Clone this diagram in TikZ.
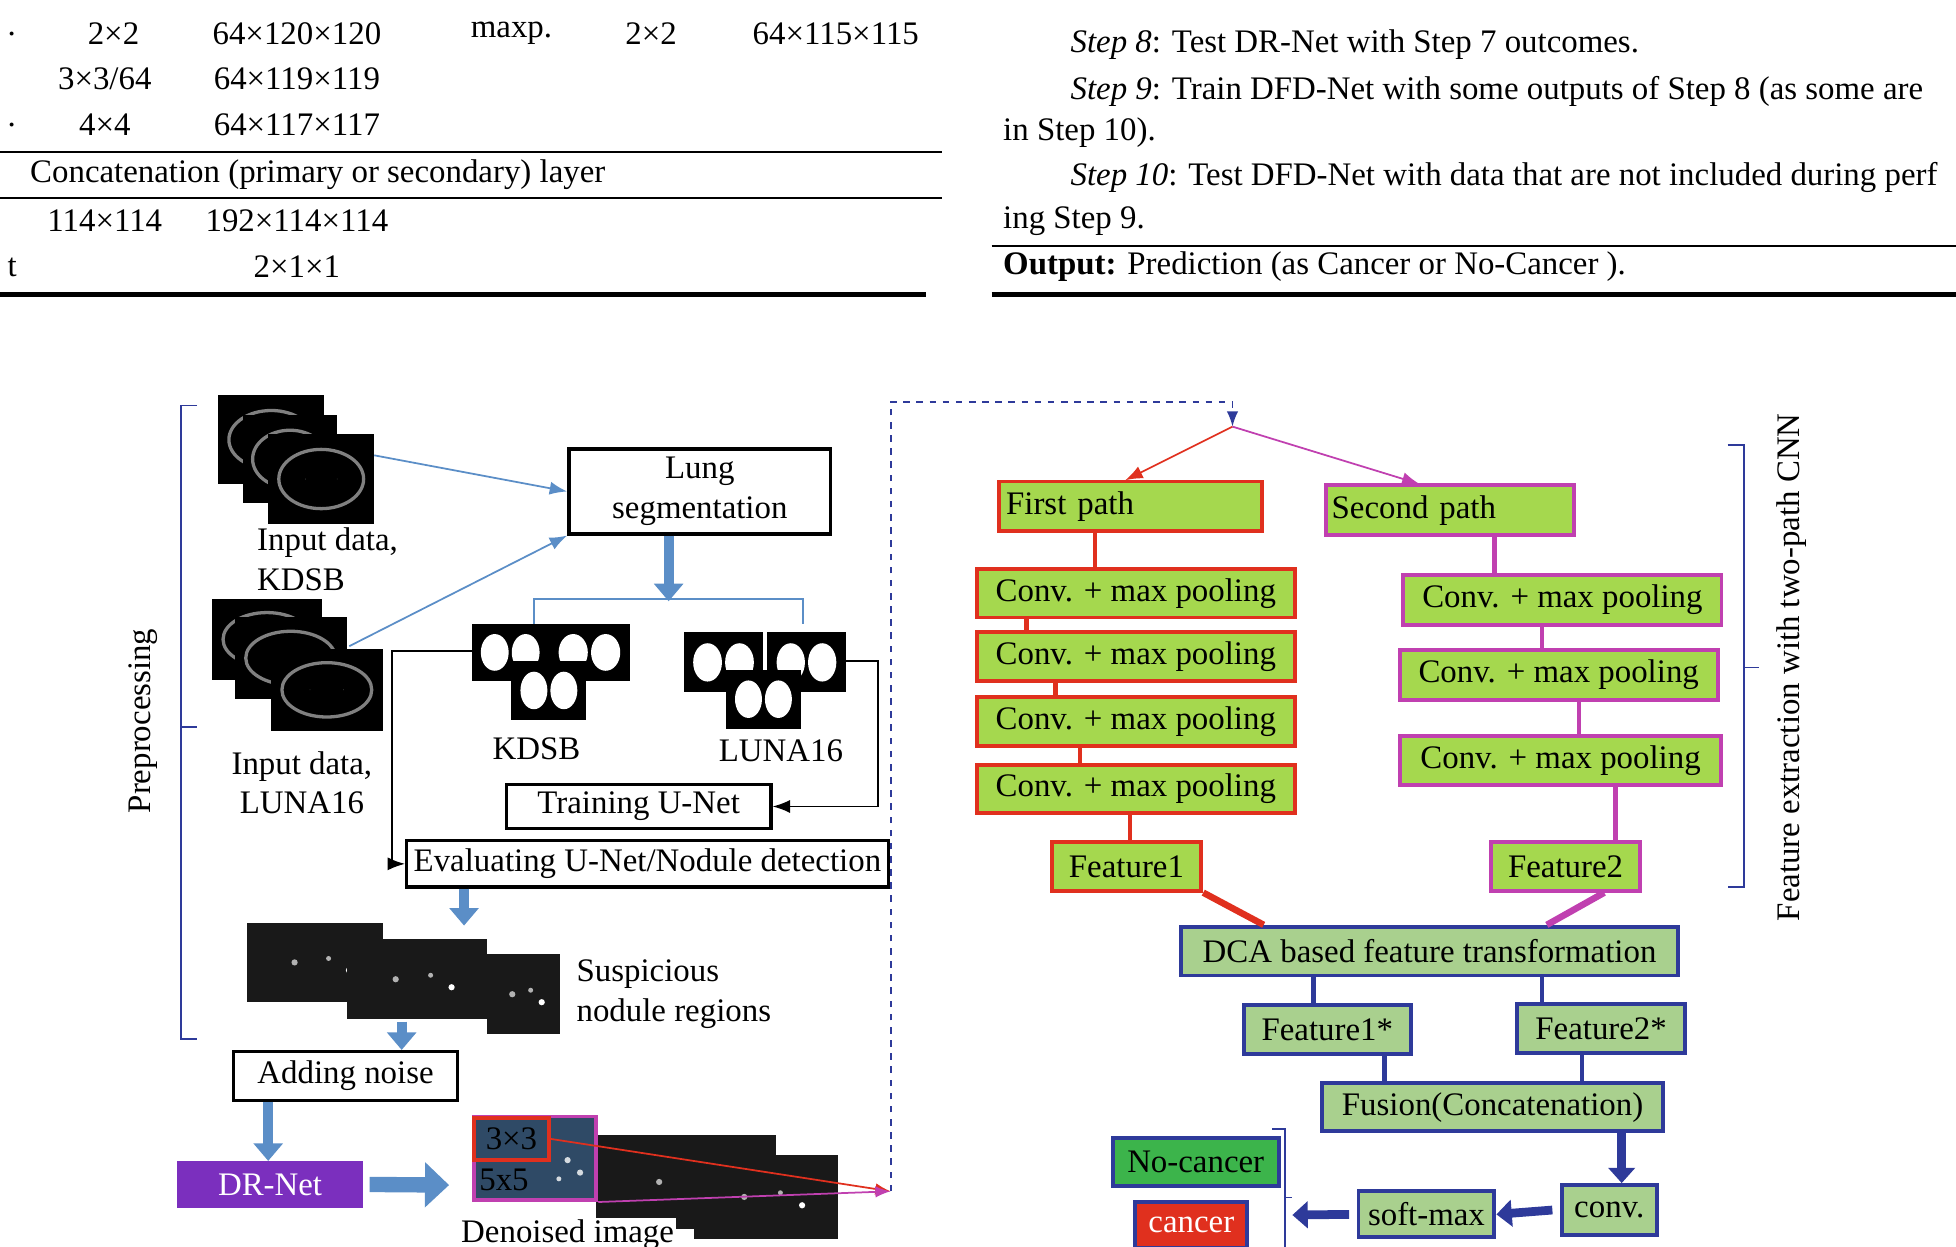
\documentclass[tikz,border=0pt]{standalone}
\usepackage{fontspec}
\setmainfont{Liberation Serif}
\usetikzlibrary{arrows.meta}
\definecolor{pgreen}{HTML}{A5D84E}
\definecolor{lgreen}{HTML}{A9D08E}
\definecolor{dgreen}{HTML}{3CB44B}
\definecolor{pred}{HTML}{E0301E}
\definecolor{pmag}{HTML}{C040B0}
\definecolor{pnavy}{HTML}{2E3A9A}
\definecolor{pblue}{HTML}{5B8EC7}
\definecolor{ppurple}{HTML}{7B2FBE}
\definecolor{dimg}{HTML}{2F4A66}
\newcommand{\ctimg}[4]{\fill[black] (#1,#2) rectangle (#3,#4);
  \draw[gray,line width=1.5pt] ({(#1+#3)/2},{(#2+#4)/2}) ellipse ({(#3-#1)*0.4*0.02cm} and {(#4-#2)*0.33*0.02cm});
  \fill[gray!60] ({(#1+#3)/2-(#3-#1)*0.15},{(#2+#4)/2}) circle (0.25) ({(#1+#3)/2+(#3-#1)*0.15},{(#2+#4)/2}) circle (0.25);}
\newcommand{\maskimg}[4]{\fill[black] (#1,#2) rectangle (#3,#4);
  \fill[white] ({#1+(#3-#1)*0.3},{(#2+#4)/2}) ellipse ({(#3-#1)*0.18*0.02cm} and {(#4-#2)*0.32*0.02cm});
  \fill[white] ({#1+(#3-#1)*0.7},{(#2+#4)/2}) ellipse ({(#3-#1)*0.18*0.02cm} and {(#4-#2)*0.32*0.02cm});}
\newcommand{\darkimg}[4]{\fill[black!90] (#1,#2) rectangle (#3,#4);
  \fill[gray!60] ({#1+(#3-#1)*0.35},{(#2+#4)/2}) circle (2.5) ({#1+(#3-#1)*0.6},{#2+(#4-#2)*0.45}) circle (2);
  \fill[white] ({#1+(#3-#1)*0.75},{#2+(#4-#2)*0.6}) circle (2.5);}
\tikzset{
  every node/.style={font=\fontsize{15}{18}\selectfont},
  box/.style={draw,line width=1.5pt,inner sep=0pt,align=center},
  rbox/.style={draw=pred,fill=pgreen,line width=1.8pt,inner sep=0pt},
  mbox/.style={draw=pmag,fill=pgreen,line width=1.8pt,inner sep=0pt},
  bbox/.style={draw=pnavy,fill=lgreen,line width=1.8pt,inner sep=0pt},
  barrow/.style={pblue,line width=4.5pt,-{Triangle[width=13pt,length=8pt]}},
  narrow/.style={pnavy,line width=4pt,-{Triangle[width=12pt,length=7pt]}},
  thin/.style={line width=0.8pt},
}
\begin{document}
\begin{tikzpicture}[x=0.02cm,y=-0.02cm]
\useasboundingbox (0,0) rectangle (1568,999);
% top left table
\node[anchor=west] (t1) at (0,27) {.};
\node (t2) at (91,27) {2×2};
\node (t3) at (238,27) {64×120×120};
\node (t4) at (410,27) {maxp.};
\node (t5) at (522,27) {2×2};
\node (t6) at (670,27) {64×115×115};
\node (t7) at (84,63) {3×3/64};
\node (t8) at (238,63) {64×119×119};
\node[anchor=west] (t9) at (0,100) {.};
\node (t10) at (84,100) {4×4};
\node (t11) at (238,100) {64×117×117};
\draw[line width=1pt] (0,122) -- (755,122);
\node[anchor=west] (t12) at (18,140) {Concatenation (primary or secondary) layer};
\draw[line width=1pt] (0,159) -- (755,159);
\node (t13) at (84,177) {114×114};
\node (t14) at (238,177) {192×114×114};
\node[anchor=west] (t15) at (0,214) {t};
\node (t16) at (238,214) {2×1×1};
\draw[line width=2pt] (0,236) -- (742,236);
% top right algorithm
\node[anchor=west] (s8) at (852,36) {\textit{Step 8}: Test DR-Net with Step 7 outcomes.};
\node[anchor=west] (s9) at (852,73) {\textit{Step 9}: Train DFD-Net with some outputs of Step 8 (as some are};
\node[anchor=west] (s9b) at (798,106) {in Step 10).};
\node[anchor=west] (s10) at (852,142) {\textit{Step 10}: Test DFD-Net with data that are not included during perf};
\node[anchor=west] (s10b) at (798,177) {ing Step 9.};
\draw[line width=1pt] (795,197) -- (1568,197);
\node[anchor=west] (out) at (798,214) {\textbf{Output:} Prediction (as Cancer or No-Cancer ).};
\draw[line width=2pt] (795,236) -- (1568,236);
% preprocessing bracket
\draw[pnavy,thin] (158,325) -- (145,325) -- (145,833) -- (158,833) (145,583) -- (158,583);
\node[rotate=90] (pre) at (115,578) {Preprocessing};
% input images
\ctimg{175}{317}{260}{388}\ctimg{195}{333}{270}{403}\ctimg{215}{348}{300}{420}
\ctimg{170}{480}{258}{545}\ctimg{188}{495}{278}{560}\ctimg{217}{520}{307}{586}
\node[align=left,anchor=north west] (in1) at (200,417) {Input data,\\KDSB};
\node[align=center,anchor=north] (in2) at (242,596) {Input data,\\LUNA16};
\coordinate (i1) at (300,365);
\coordinate (i2) at (280,518);
\node[box,minimum width=4.2cm,minimum height=1.36cm,text width=4cm] (lung) at (561,394) {Lung\\segmentation};
\draw[pblue,thin,-{Latex[length=8pt]}] (i1) -- (lung.west);
\draw[pblue,thin,-{Latex[length=8pt]}] (i2) -- (lung.south west);
\draw[barrow] (lung.south -| 536,0) -- (536,482);
\draw[pblue,thin] (428,500) -- (428,480) -- (644,480) -- (644,500);
% masks
\maskimg{378}{500}{440}{546}\maskimg{440}{500}{505}{546}\maskimg{410}{530}{470}{577}
\maskimg{548}{507}{612}{555}\maskimg{615}{507}{678}{555}\maskimg{582}{537}{642}{584}
\coordinate (mk) at (378,522);
\coordinate (ml) at (678,530);
\node (kdsb) at (430,600) {KDSB};
\node (luna) at (626,602) {LUNA16};
\node[box,minimum width=4.24cm,minimum height=0.7cm] (train) at (512,646.5) {Training U-Net};
\node[box,minimum width=7.72cm,minimum height=0.74cm] (eval) at (519,692.5) {Evaluating U-Net/Nodule detection};
\draw[thin,-{Latex[length=8pt]}] (ml) -- (704,530) |- (train.east);
\draw[thin,-{Latex[length=8pt]}] (mk) -- (314,522) |- (eval.west);
\draw[barrow] (eval.south -| 372,0) -- (372,742);
% suspicious
\darkimg{198}{740}{307}{803}\darkimg{278}{753}{390}{817}\darkimg{390}{765}{449}{829}
\node[align=left,anchor=west] (susp) at (456,797) {Suspicious\\nodule regions};
\coordinate (sb) at (322,819);
\node[box,minimum width=3.6cm,minimum height=0.78cm] (noise) at (277,862.5) {Adding noise};
\draw[barrow] (sb) -- (noise.north -| sb);
\node[fill=ppurple,text=white,minimum width=2.98cm,minimum height=0.74cm,inner sep=0pt] (dr) at (216.5,949.5) {DR-Net};
\draw[barrow] (noise.south -| 215,0) -- (dr.north -| 215,0);
\draw[pblue,line width=7pt,-{Triangle[width=20pt,length=11pt]}] (dr.east) ++(5,0) -- (360,950);
% denoised
\darkimg{478}{910}{622}{985}\darkimg{556}{926}{672}{993}
\fill[dimg] (380,895) rectangle (478,962);
\fill[white!80!dimg] (455,930) circle (2.5) (465,940) circle (2.5) (448,945) circle (2);
\node[draw=pmag,line width=1.8pt,minimum width=1.96cm,minimum height=1.34cm,inner sep=0pt] (k5) at (429,928.5) {};
\node[draw=pred,line width=1.8pt,minimum width=1.2cm,minimum height=0.68cm,inner sep=0pt] (k3) at (410,913) {3×3};
\node (k5l) at (404,946) {5x5};
\node[fill=white,inner sep=1pt] (den) at (455,990) {Denoised image};
\coordinate (dn) at (714,955);
\draw[pred,thin,-{Latex[length=7pt]}] (k3.east) -- (dn);
\draw[pmag,thin,-{Latex[length=7pt]}] (k5.south east) -- (dn);
\coordinate (top) at (988,342);
\draw[pnavy,thin,dashed,-{Latex[length=7pt]}] (dn) -- (714,322) -- (988,322) -- (top);
% two-path CNN
\node[rbox,minimum width=4.22cm,minimum height=0.8cm,text width=4cm] (first) at (906.5,406) {First path};
\node[mbox,minimum width=3.98cm,minimum height=0.8cm,text width=3.8cm] (second) at (1162.5,409) {Second path};
\draw[pred,thin,-{Latex[length=8pt]}] (top) -- (902,385);
\draw[pmag,thin,-{Latex[length=8pt]}] (top) -- (1138,388);
\foreach \n/\y in {c1/475.5,c2/526.5,c3/578.5,c4/632.5}
  \node[rbox,minimum width=5.1cm,minimum height=0.78cm] (\n) at (910.5,\y) {Conv. + max pooling};
\node[mbox,minimum width=5.1cm,minimum height=0.8cm] (d1) at (1252.5,481) {Conv. + max pooling};
\node[mbox,minimum width=5.1cm,minimum height=0.8cm] (d2) at (1249.5,541) {Conv. + max pooling};
\node[mbox,minimum width=5.16cm,minimum height=0.78cm] (d3) at (1251,609.5) {Conv. + max pooling};
\node[rbox,minimum width=2.4cm,minimum height=0.78cm] (f1) at (903,694.5) {Feature1};
\node[mbox,minimum width=2.4cm,minimum height=0.78cm] (f2) at (1255,694.5) {Feature2};
\begin{scope}[pred,line width=2pt]
\draw (first.south -| 878,0) -- (c1.north -| 878,0);
\draw (c1.south -| 823,0) -- (c2.north -| 823,0);
\draw (c2.south -| 846,0) -- (c3.north -| 846,0);
\draw (c3.south -| 866,0) -- (c4.north -| 866,0);
\draw (c4.south -| 906,0) -- (f1.north -| 906,0);
\end{scope}
\begin{scope}[pmag,line width=2pt]
\draw (second.south -| 1198,0) -- (d1.north -| 1198,0);
\draw (d1.south -| 1236,0) -- (d2.north -| 1236,0);
\draw (d2.south -| 1266,0) -- (d3.north -| 1266,0);
\draw (d3.south -| 1295,0) -- (f2.north -| 1295,0);
\end{scope}
\draw[pnavy,thin] (1385,357) -- (1398,357) -- (1398,711) -- (1385,711) (1398,535) -- (1410,535);
\node[rotate=90] (fe) at (1436,535) {Feature extraction with two-path CNN};
% fusion
\node[bbox,minimum width=7.96cm,minimum height=0.78cm] (dca) at (1146,762.5) {DCA based feature transformation};
\draw[pred,line width=3pt] (f1.south east) -- (dca.north -| 1013,0);
\draw[pmag,line width=3pt] (f2.south -| 1286,0) -- (dca.north -| 1240,0);
\node[bbox,minimum width=2.68cm,minimum height=0.78cm] (f1s) at (1064,825.5) {Feature1*};
\node[bbox,minimum width=2.7cm,minimum height=0.78cm] (f2s) at (1283.5,824.5) {Feature2*};
\node[bbox,minimum width=5.46cm,minimum height=0.78cm] (fus) at (1196.5,887.5) {Fusion(Concatenation)};
\begin{scope}[pnavy,line width=2pt]
\draw (dca.south -| 1053,0) -- (f1s.north -| 1053,0);
\draw (dca.south -| 1236,0) -- (f2s.north -| 1236,0);
\draw (f1s.south -| 1110,0) -- (fus.north -| 1110,0);
\draw (f2s.south -| 1268,0) -- (fus.north -| 1268,0);
\end{scope}
\node[draw=pnavy,fill=lgreen,line width=1.8pt,minimum width=1.52cm,minimum height=0.8cm,inner sep=0pt] (conv) at (1290,970) {conv.};
\node[bbox,minimum width=2.18cm,minimum height=0.74cm] (soft) at (1143.5,973.5) {soft-max};
\draw[narrow] (fus.south -| 1300,0) -- (conv.north -| 1300,0);
\draw[narrow] (conv.west) ++(-6,0) -- (soft.east);
\coordinate (br) at (1036,974);
\draw[narrow] (soft.west) ++(-6,0) -- (br);
\draw[pnavy,thin] (1020,905) -- (1030,905) -- (1030,1005) (1030,960) -- (1036,960);
\node[draw=pnavy,fill=dgreen,line width=1.8pt,minimum width=2.66cm,minimum height=0.78cm,inner sep=0pt] (noc) at (958.5,931.5) {No-cancer};
\node[draw=pnavy,fill=pred,text=white,line width=1.8pt,minimum width=1.8cm,minimum height=0.74cm,inner sep=0pt] (can) at (955,982) {cancer};
\end{tikzpicture}
\end{document}
